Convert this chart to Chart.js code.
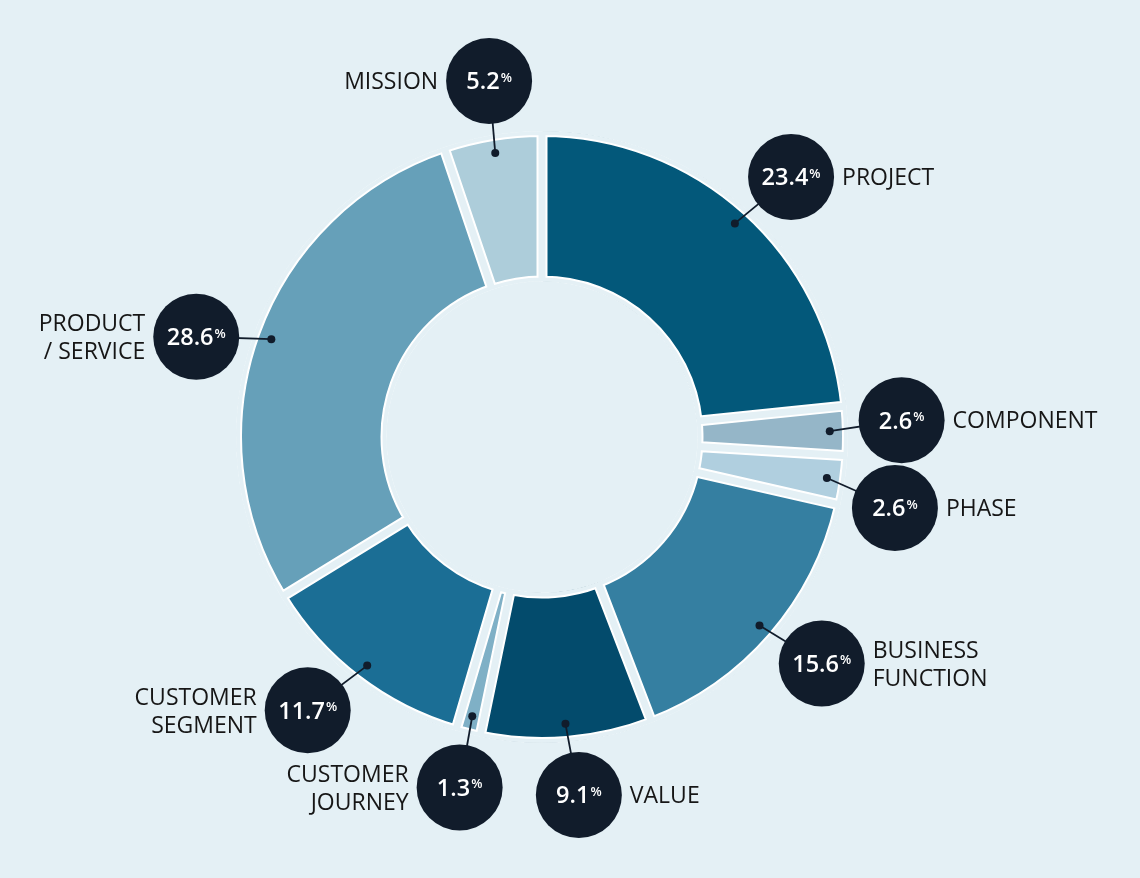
<!DOCTYPE html>
<html>
<head>
<meta charset="utf-8">
<script src="https://cdn.jsdelivr.net/npm/chart.js@4/dist/chart.umd.min.js"></script>
<style>
  html, body { margin: 0; padding: 0; background: #e4f0f5; }
  #wrap { position: relative; width: 1140px; height: 878px; }
  canvas { display: block; }
</style>
</head>
<body>
<div id="wrap"><canvas id="c" width="1140" height="878"></canvas></div>
<script>
// ---- data ----
const categories = ['PROJECT', 'COMPONENT', 'PHASE', 'BUSINESS FUNCTION', 'VALUE',
                    'CUSTOMER JOURNEY', 'CUSTOMER SEGMENT', 'PRODUCT / SERVICE', 'MISSION'];
const shares = [23.4, 2.6, 2.6, 15.6, 9.1, 1.3, 11.7, 28.6, 5.2];
const sliceColors = ['#03587a', '#95b6c8', '#b0cfdf', '#357fa1', '#034b6c',
                     '#7fb0c6', '#1b6e95', '#66a0b9', '#adcdda'];

// ---- style / layout ----
const BG = '#e4f0f5';
const BADGE = '#111c2b';
const GAP = 7;        // background gap between slices
const WHITE = 2;      // white outline width
const labelNudgeDeg = [1.7, -1.5, 3.2, -1.9, -1.2, -0.8, 3.2, -3.7, 0.9];
const BADGE_DIST = 360;
const BADGE_R = 43;
const FONT = '"Open Sans", "Noto Sans", sans-serif';

function splitLabel(s) {
  const i = s.indexOf(' ');
  return i < 0 ? [s] : [s.slice(0, i), s.slice(i + 1)];
}

const gapPass = {
  id: 'gapPass',
  afterDatasetsDraw(chart) {
    const ctx = chart.ctx;
    chart.getDatasetMeta(0).data.forEach(arc => {
      const saved = arc.options;
      arc.options = Object.assign({}, saved, {
        backgroundColor: 'rgba(0,0,0,0)',
        borderColor: BG,
        borderWidth: GAP / 2,
        borderAlign: 'inner'
      });
      arc.draw(ctx);
      arc.options = saved;
    });
  }
};

const badges = {
  id: 'badges',
  afterDraw(chart) {
    const ctx = chart.ctx;
    const meta = chart.getDatasetMeta(0);
    meta.data.forEach((arc, i) => {
      const cx = arc.x, cy = arc.y;
      const mid = (arc.startAngle + arc.endAngle) / 2;
      const dotR = arc.outerRadius - 18;
      const dx = cx + Math.cos(mid) * dotR;
      const dy = cy + Math.sin(mid) * dotR;
      const la = mid + labelNudgeDeg[i] * Math.PI / 180;
      const bx = cx + Math.cos(la) * BADGE_DIST;
      const by = cy + Math.sin(la) * BADGE_DIST;

      ctx.save();
      // leader line
      ctx.strokeStyle = BADGE;
      ctx.lineWidth = 1.8;
      ctx.beginPath();
      ctx.moveTo(dx, dy);
      ctx.lineTo(bx, by);
      ctx.stroke();
      // dot
      ctx.fillStyle = BADGE;
      ctx.beginPath();
      ctx.arc(dx, dy, 4, 0, Math.PI * 2);
      ctx.fill();
      // badge circle
      ctx.beginPath();
      ctx.arc(bx, by, BADGE_R, 0, Math.PI * 2);
      ctx.fill();

      // percentage
      const main = shares[i].toFixed(1);
      const mainSize = 23.5, supSize = 13;
      ctx.fillStyle = '#ffffff';
      ctx.textBaseline = 'alphabetic';
      ctx.textAlign = 'left';
      ctx.font = '600 ' + mainSize + 'px ' + FONT;
      const w1 = ctx.measureText(main).width;
      ctx.font = '600 ' + supSize + 'px ' + FONT;
      const w2 = ctx.measureText('%').width;
      const total = w1 + 1 + w2;
      const sx = bx - total / 2;
      const base = by + 0.357 * mainSize;
      ctx.font = '600 ' + mainSize + 'px ' + FONT;
      ctx.fillText(main, sx, base);
      ctx.font = '600 ' + supSize + 'px ' + FONT;
      const capTop = base - 0.714 * mainSize;
      ctx.fillText('%', sx + w1 + 1, capTop + 0.714 * supSize);

      // category label
      const lines = splitLabel(categories[i]);
      const right = Math.cos(la) >= 0;
      const lh = 28, size = 23;
      ctx.font = '400 ' + size + 'px ' + FONT;
      ctx.fillStyle = '#161616';
      ctx.textAlign = right ? 'left' : 'right';
      const tx = right ? bx + BADGE_R + 8 : bx - BADGE_R - 8;
      const firstCenter = by - (lines.length - 1) * lh / 2;
      lines.forEach((t, k) => {
        ctx.fillText(t, tx, firstCenter + k * lh + 0.357 * size);
      });
      ctx.restore();
    });
  }
};

new Chart(document.getElementById('c'), {
  type: 'doughnut',
  data: {
    labels: categories,
    datasets: [{
      data: shares,
      backgroundColor: sliceColors,
      borderColor: '#ffffff',
      borderWidth: GAP / 2 + WHITE,
      borderAlign: 'inner',
      hoverOffset: 0
    }]
  },
  options: {
    responsive: false,
    animation: false,
    radius: 305.8,
    cutout: '50.9%',
    rotation: 0,
    layout: { padding: { left: 0, right: 56, top: 0, bottom: 4 } },
    plugins: {
      legend: { display: false },
      tooltip: { enabled: false }
    },
    events: []
  },
  plugins: [gapPass, badges]
});
</script>
</body>
</html>
